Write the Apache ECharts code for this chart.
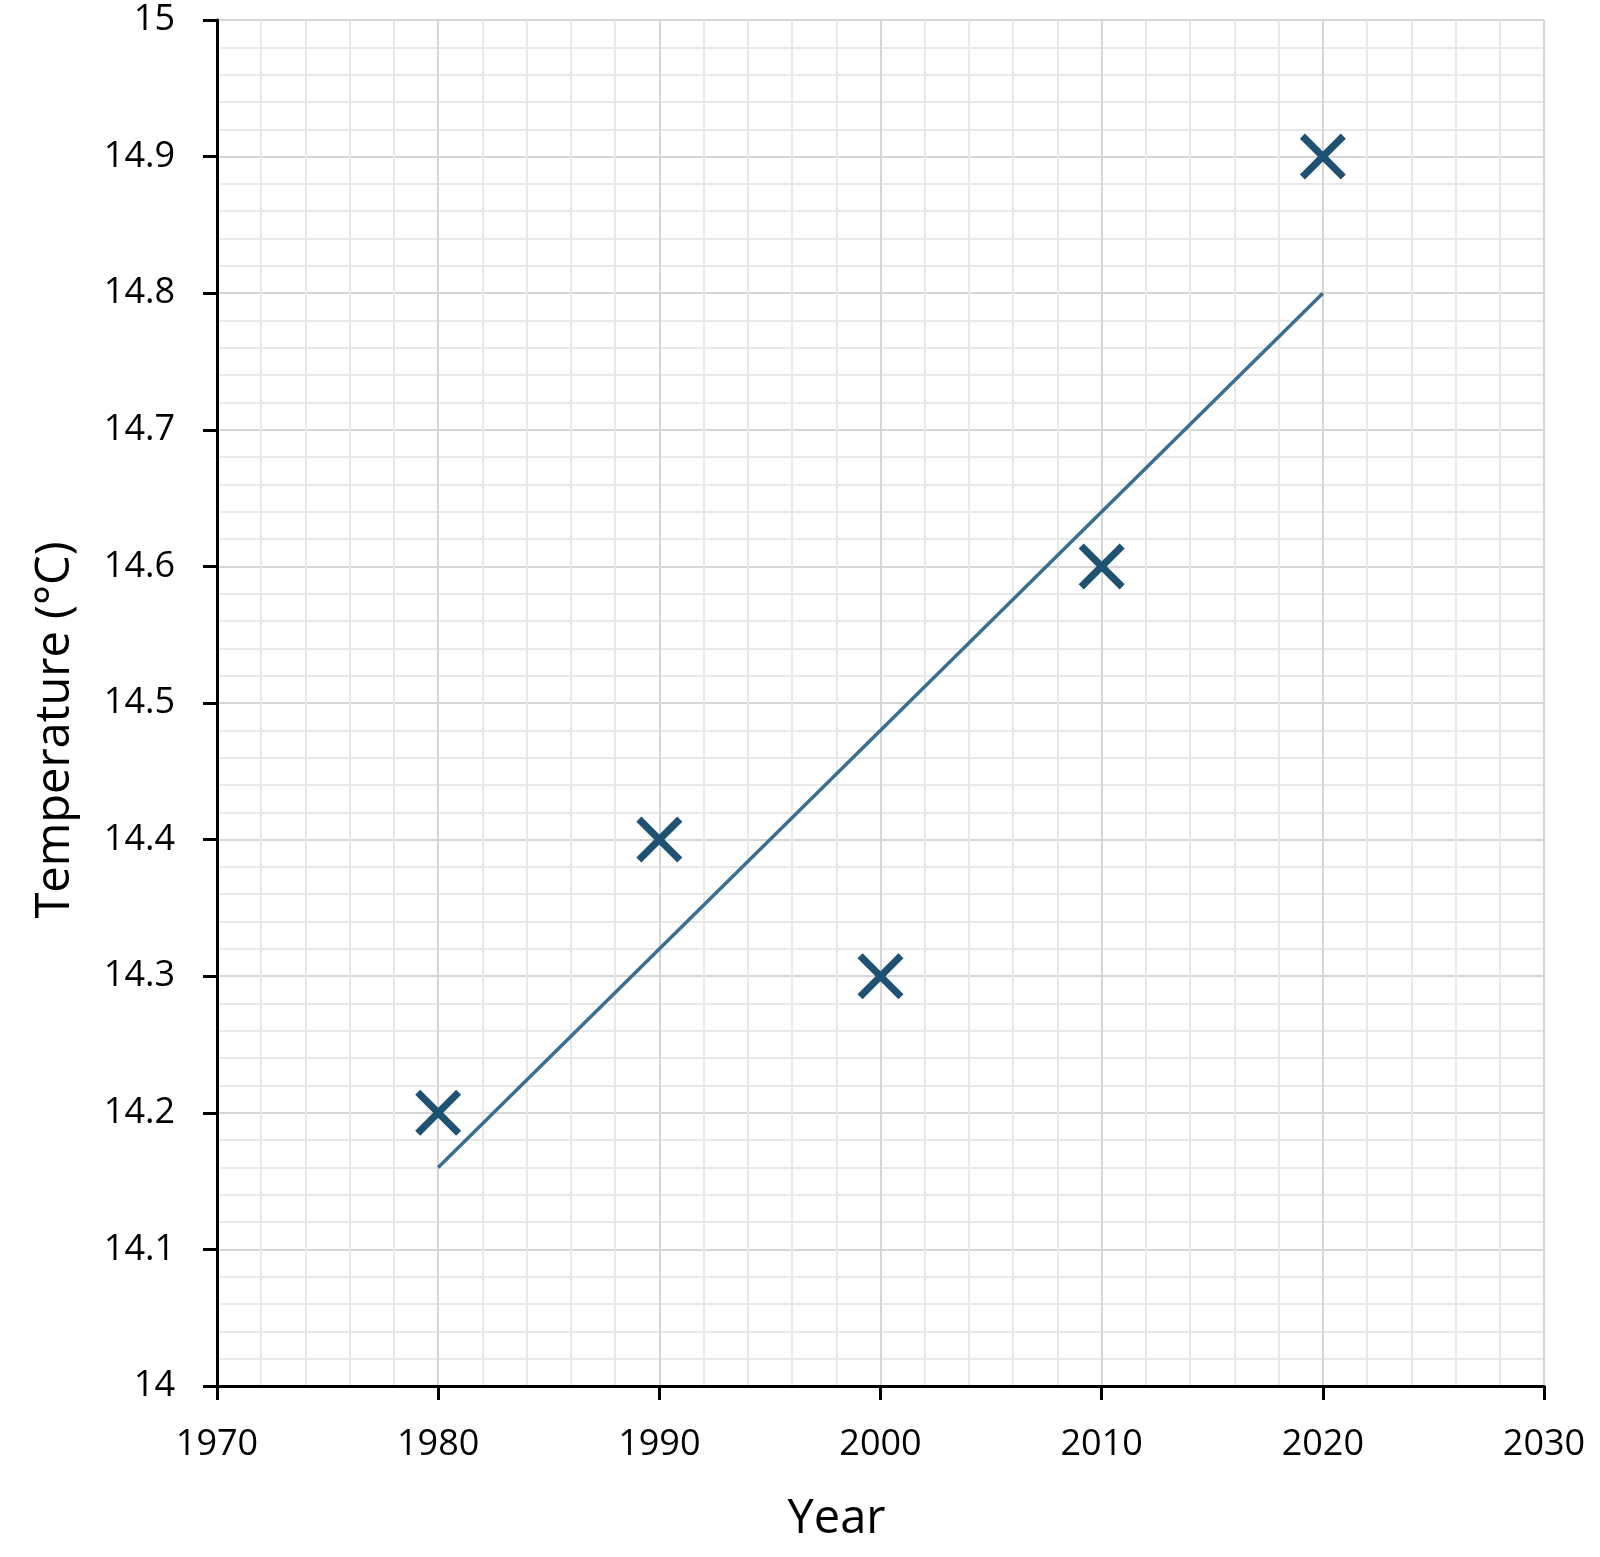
<!DOCTYPE html>
<html>
<head>
<meta charset="utf-8">
<script src="https://cdn.jsdelivr.net/npm/echarts@6/dist/echarts.min.js"></script>
<style>
  html, body { margin: 0; padding: 0; background: #fff; }
  #chart { width: 1600px; height: 1557px; }
</style>
</head>
<body>
<div id="chart"></div>
<script>
// measured points
const years = [1980, 1990, 2000, 2010, 2020];
const temps = [14.2, 14.4, 14.3, 14.6, 14.9];

// trend line end points
const trendYears = [1980, 2020];
const trendTemps = [14.16, 14.80];

// X-shaped marker as a filled path
const crossPath = 'path://M0,11L11,0L100,89L89,100ZM89,0L100,11L11,100L0,89Z';

const font = '"Open Sans", "Liberation Sans", sans-serif';

const getOption = () => {
    return {
        animation: false,
        grid: {
            left: 217,
            right: 56,
            top: 20,
            bottom: 171
        },
        xAxis: {
            type: 'value',
            min: 1970,
            max: 2030,
            interval: 10,
            name: 'Year',
            nameLocation: 'middle',
            nameGap: 110,
            nameTextStyle: {
                fontFamily: font,
                fontSize: 47,
                color: '#000',
                padding: [0, 88, 0, 0]
            },
            axisLine: { lineStyle: { color: '#000', width: 3 } },
            axisTick: { show: true, length: 14, lineStyle: { color: '#000', width: 3 } },
            axisLabel: {
                margin: 41,
                fontFamily: font,
                fontSize: 36,
                color: '#000',
                formatter: (v) => String(v)
            },
            splitLine: { show: true, lineStyle: { color: '#d6d6d6', width: 2 } },
            minorTick: { show: false, splitNumber: 5 },
            minorSplitLine: { show: true, lineStyle: { color: '#e8e8e8', width: 2 } }
        },
        yAxis: {
            type: 'value',
            min: 14,
            max: 15,
            interval: 0.1,
            name: 'Temperature (°C)',
            nameLocation: 'middle',
            nameRotate: 90,
            nameGap: 138,
            nameTextStyle: {
                fontFamily: font,
                fontSize: 47,
                color: '#000',
                padding: [0, 54, 0, 0]
            },
            axisLine: { show: true, lineStyle: { color: '#000', width: 3 } },
            axisTick: { show: true, length: 14, lineStyle: { color: '#000', width: 3 } },
            axisLabel: {
                margin: 42,
                fontFamily: font,
                fontSize: 36,
                color: '#000',
                formatter: (v) => String(Math.round(v * 10) / 10)
            },
            splitLine: { show: true, lineStyle: { color: '#d6d6d6', width: 2 } },
            minorTick: { show: false, splitNumber: 5 },
            minorSplitLine: { show: true, lineStyle: { color: '#e8e8e8', width: 2 } }
        },
        series: [
            {
                type: 'line',
                data: trendYears.map((y, i) => [y, trendTemps[i]]),
                symbol: 'none',
                lineStyle: { color: '#3b6f92', width: 3.5 },
                z: 2
            },
            {
                type: 'scatter',
                data: years.map((y, i) => [y, temps[i]]),
                symbol: crossPath,
                symbolSize: 46,
                itemStyle: { color: '#1f5272', opacity: 1 },
                z: 3
            }
        ]
    };
}

const chart = echarts.init(document.getElementById('chart'));
chart.setOption(getOption());
</script>
</body>
</html>
